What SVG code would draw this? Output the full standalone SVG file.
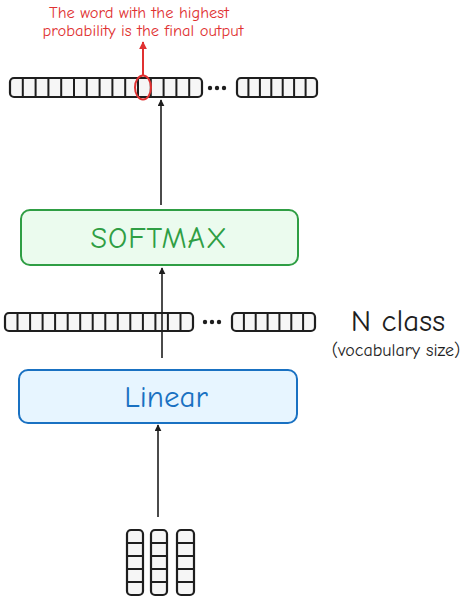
<svg xmlns="http://www.w3.org/2000/svg" width="474" height="600" viewBox="0 0 474 600">
<style>
.vec{fill:#f6f6f6;stroke:#1e1e1e;stroke-width:2.2}
.div{stroke:#1e1e1e;stroke-width:2;fill:none}
.dot{fill:#1e1e1e}
.conn{stroke:#1e1e1e;stroke-width:1.6;fill:none}
.lbl{font-family:"Comic Neue","Liberation Sans",sans-serif}
</style>
<defs>
<marker id="ah" viewBox="0 0 10 10" refX="9" refY="5" markerWidth="7" markerHeight="7" orient="auto" markerUnits="userSpaceOnUse">
<path d="M0,0 L10,5 L0,10 z" fill="#1e1e1e"/>
</marker>
<marker id="ahr" viewBox="0 0 10 10" refX="9" refY="5" markerWidth="8" markerHeight="8" orient="auto" markerUnits="userSpaceOnUse">
<path d="M0,0 L10,5 L0,10 z" fill="#e03131"/>
</marker>
</defs>
<rect width="474" height="600" fill="#ffffff"/>

<g id="output-text">
<text class="lbl" x="139" y="18" font-size="16.5" fill="#e03131" text-anchor="middle">The word with the highest</text>
<text class="lbl" x="143" y="36" font-size="16.5" fill="#e03131" text-anchor="middle">probability is the final output</text>
</g>

<g id="output-vector">
<rect class="vec" x="10" y="78" width="192" height="19" rx="4"/>
<path class="div" d="M22.8,78V97M35.6,78V97M48.4,78V97M61.2,78V97M74,78V97M86.8,78V97M99.6,78V97M112.4,78V97M125.2,78V97M138,78V97M150.8,78V97M163.6,78V97M176.4,78V97M189.2,78V97"/>
<circle class="dot" cx="210" cy="88" r="2.2"/>
<circle class="dot" cx="217" cy="88" r="2.2"/>
<circle class="dot" cx="224" cy="88" r="2.2"/>
<rect class="vec" x="237" y="78" width="80" height="19" rx="4"/>
<path class="div" d="M248.4,78V97M259.9,78V97M271.3,78V97M282.7,78V97M294.1,78V97M305.6,78V97"/>
<ellipse cx="143" cy="87.5" rx="8" ry="12" fill="none" stroke="#e03131" stroke-width="2"/>
</g>

<g id="softmax">
<rect x="21" y="210" width="277" height="55" rx="9" fill="#ebfbee" stroke="#2f9e44" stroke-width="2"/>
<text class="lbl" x="159" y="248" font-size="30" fill="#2f9e44" text-anchor="middle" letter-spacing="1">SOFTMAX</text>
</g>

<g id="logits-vector">
<rect class="vec" x="5" y="313" width="188" height="18" rx="4"/>
<path class="div" d="M17.5,313V331M30.1,313V331M42.6,313V331M55.1,313V331M67.7,313V331M80.2,313V331M92.7,313V331M105.3,313V331M117.8,313V331M130.3,313V331M142.9,313V331M155.4,313V331M167.9,313V331M180.5,313V331"/>
<circle class="dot" cx="205" cy="322" r="2.2"/>
<circle class="dot" cx="212" cy="322" r="2.2"/>
<circle class="dot" cx="219" cy="322" r="2.2"/>
<rect class="vec" x="232" y="313" width="83" height="18" rx="4"/>
<path class="div" d="M243.9,313V331M255.7,313V331M267.6,313V331M279.4,313V331M291.3,313V331M303.1,313V331"/>
</g>

<g id="nclass-label">
<text class="lbl" x="398" y="331" font-size="31" fill="#1e1e1e" text-anchor="middle">N class</text>
<text class="lbl" x="396" y="356" font-size="18" fill="#1e1e1e" text-anchor="middle">(vocabulary size)</text>
</g>

<g id="linear">
<rect x="19" y="370" width="278" height="53" rx="9" fill="#e7f5ff" stroke="#1971c2" stroke-width="2"/>
<text class="lbl" x="166" y="407" font-size="31" fill="#1971c2" text-anchor="middle">Linear</text>
</g>

<g id="input-vectors">
<rect class="vec" x="127" y="530" width="16" height="65" rx="4"/>
<rect class="vec" x="151" y="530" width="16" height="65" rx="4"/>
<rect class="vec" x="177" y="530" width="17" height="65" rx="4"/>
<path class="div" d="M127,543H143M127,556H143M127,569H143M127,582H143M151,543H167M151,556H167M151,569H167M151,582H167M177,543H194M177,556H194M177,569H194M177,582H194"/>
</g>

<g id="connectors">
<line class="conn" x1="158" y1="517" x2="158" y2="425" marker-end="url(#ah)"/>
<line class="conn" x1="162" y1="358" x2="162" y2="268" marker-end="url(#ah)"/>
<line class="conn" x1="161" y1="205" x2="161" y2="100" marker-end="url(#ah)"/>
<line x1="143" y1="76" x2="143" y2="42" stroke="#e03131" stroke-width="2" marker-end="url(#ahr)"/>
</g>
</svg>
